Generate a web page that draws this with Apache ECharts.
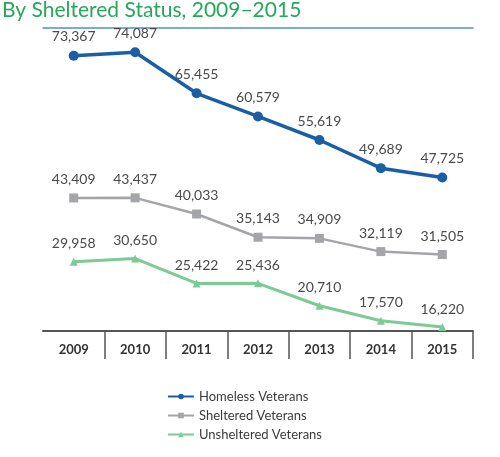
<!DOCTYPE html>
<html>
<head>
<meta charset="utf-8">
<script src="https://cdn.jsdelivr.net/npm/echarts@6/dist/echarts.min.js"></script>
<style>
html,body{margin:0;padding:0;background:#fff;}
#chart{width:500px;height:457px;}
</style>
</head>
<body>
<div id="chart"></div>
<script>
var years = ['2009','2010','2011','2012','2013','2014','2015'];
var homeless = [73367, 74087, 65455, 60579, 55619, 49689, 47725];
var sheltered = [43409, 43437, 40033, 35143, 34909, 32119, 31505];
var unsheltered = [29958, 30650, 25422, 25436, 20710, 17570, 16220];

var chart = echarts.init(document.getElementById('chart'));

function lbl(){
	return {
		show: true,
		position: 'top',
		distance: 7,
		color: '#4a4a4a',
		fontFamily: 'Lato',
		fontSize: 14,
		formatter: function(p){ return p.value.toLocaleString('en-US'); }
	};
}

var option = {
	animation: false,
	title: {
		text: 'By Sheltered Status, 2009\u20132015',
		left: -3,
		top: -5,
		textStyle: { color: '#25a85c', fontFamily: 'Lato', fontWeight: 'normal', fontSize: 21 }
	},
	legend: {
		orient: 'vertical',
		left: 167,
		top: 390,
		padding: 0,
		itemWidth: 26,
		itemHeight: 7,
		itemGap: 6,
		textStyle: { color: '#3a3a3a', fontFamily: 'Lato', fontSize: 13 },
		data: ['Homeless Veterans', 'Sheltered Veterans', 'Unsheltered Veterans']
	},
	grid: { left: 43, right: 27, top: 28, bottom: 126 },
	xAxis: [
		{
			type: 'category',
			data: years,
			position: 'bottom',
			axisLine: { lineStyle: { color: '#555', width: 2 } },
			axisTick: {
				show: true,
				interval: function(i){ return i > 0; },
				length: 28,
				lineStyle: { color: '#555', width: 1.5 }
			},
			axisLabel: { color: '#333', fontFamily: 'Lato', fontWeight: 'bold', fontSize: 13, margin: 12 }
		},
		{
			type: 'category',
			data: years,
			position: 'top',
			axisLine: { lineStyle: { color: '#4a8fd6', width: 1.5 } },
			axisTick: { show: false },
			axisLabel: { show: false }
		}
	],
	yAxis: {
		type: 'value',
		min: 15400,
		max: 79200,
		show: false,
		splitLine: { show: false }
	},
	series: [
		{
			name: 'Homeless Veterans',
			type: 'line',
			data: homeless,
			symbol: 'circle',
			symbolSize: 10,
			itemStyle: { color: '#1b5ea6' },
			lineStyle: { color: '#1b5ea6', width: 3.5 },
			label: lbl()
		},
		{
			name: 'Sheltered Veterans',
			type: 'line',
			data: sheltered,
			symbol: 'rect',
			symbolSize: 9,
			itemStyle: { color: '#a3a5a8' },
			lineStyle: { color: '#a3a5a8', width: 2.5 },
			label: lbl()
		},
		{
			name: 'Unsheltered Veterans',
			type: 'line',
			data: unsheltered,
			symbol: 'triangle',
			symbolSize: 8,
			itemStyle: { color: '#7ccb94' },
			lineStyle: { color: '#7ccb94', width: 3 },
			label: lbl()
		}
	]
};
chart.setOption(option);
</script>
</body>
</html>
